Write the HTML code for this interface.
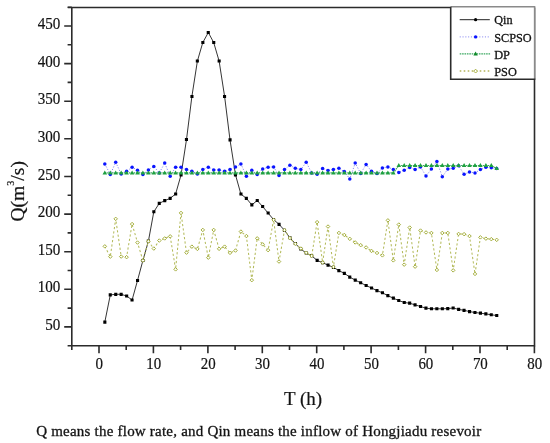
<!DOCTYPE html><html><head><meta charset="utf-8"><style>
html,body{margin:0;padding:0;background:#fff;}
body{width:550px;height:443px;overflow:hidden;position:relative;}
svg{position:absolute;left:0;top:0;}
text{font-family:"Liberation Serif",serif;fill:#141414;stroke:#141414;stroke-width:0.2px;}
</style></head><body>
<svg width="550" height="443" viewBox="0 0 550 443">
<path d="M67.6 345.7H71.8M64.2 326.9H71.8M67.6 308.1H71.8M64.2 289.3H71.8M67.6 270.5H71.8M64.2 251.7H71.8M67.6 232.9H71.8M64.2 214.1H71.8M67.6 195.3H71.8M64.2 176.5H71.8M67.6 157.7H71.8M64.2 138.8H71.8M67.6 120H71.8M64.2 101.2H71.8M67.6 82.4H71.8M64.2 63.6H71.8M67.6 44.8H71.8M64.2 26H71.8M67.6 7.2H71.8M71.8 345.7V349.9M99 345.7V353.3M126.2 345.7V349.9M153.4 345.7V353.3M180.6 345.7V349.9M207.9 345.7V353.3M235.1 345.7V349.9M262.3 345.7V353.3M289.5 345.7V349.9M316.7 345.7V353.3M343.9 345.7V349.9M371.1 345.7V353.3M398.4 345.7V349.9M425.6 345.7V353.3M452.8 345.7V349.9M480 345.7V353.3M507.2 345.7V349.9M534.4 345.7V353.3" stroke="#2b2b2b" stroke-width="1.6" fill="none"/>
<text x="45.3" y="330" font-size="16.3" textLength="15.1" lengthAdjust="spacingAndGlyphs">50</text>
<text x="37.8" y="292.4" font-size="16.3" textLength="22.6" lengthAdjust="spacingAndGlyphs">100</text>
<text x="37.8" y="254.8" font-size="16.3" textLength="22.6" lengthAdjust="spacingAndGlyphs">150</text>
<text x="37.8" y="217.2" font-size="16.3" textLength="22.6" lengthAdjust="spacingAndGlyphs">200</text>
<text x="37.8" y="179.6" font-size="16.3" textLength="22.6" lengthAdjust="spacingAndGlyphs">250</text>
<text x="37.8" y="141.9" font-size="16.3" textLength="22.6" lengthAdjust="spacingAndGlyphs">300</text>
<text x="37.8" y="104.3" font-size="16.3" textLength="22.6" lengthAdjust="spacingAndGlyphs">350</text>
<text x="37.8" y="66.7" font-size="16.3" textLength="22.6" lengthAdjust="spacingAndGlyphs">400</text>
<text x="37.8" y="29.1" font-size="16.3" textLength="22.6" lengthAdjust="spacingAndGlyphs">450</text>
<text x="95.6" y="368.6" font-size="16.1" textLength="7.5" lengthAdjust="spacingAndGlyphs">0</text>
<text x="146.3" y="368.6" font-size="16.1" textLength="14.9" lengthAdjust="spacingAndGlyphs">10</text>
<text x="200.7" y="368.6" font-size="16.1" textLength="14.9" lengthAdjust="spacingAndGlyphs">20</text>
<text x="255.1" y="368.6" font-size="16.1" textLength="14.9" lengthAdjust="spacingAndGlyphs">30</text>
<text x="309.6" y="368.6" font-size="16.1" textLength="14.9" lengthAdjust="spacingAndGlyphs">40</text>
<text x="364" y="368.6" font-size="16.1" textLength="14.9" lengthAdjust="spacingAndGlyphs">50</text>
<text x="418.4" y="368.6" font-size="16.1" textLength="14.9" lengthAdjust="spacingAndGlyphs">60</text>
<text x="472.9" y="368.6" font-size="16.1" textLength="14.9" lengthAdjust="spacingAndGlyphs">70</text>
<text x="527.3" y="368.6" font-size="16.1" textLength="14.9" lengthAdjust="spacingAndGlyphs">80</text>
<polyline points="104.8,322.1 110.3,294.9 115.7,294.3 121.2,294.3 126.6,296 132.1,300 137.5,280.5 142.9,260.5 148.4,241.2 153.8,211.8 159.3,203.3 164.7,200.7 170.2,198.3 175.6,194 181,175.1 186.5,139.5 191.9,96.4 197.4,61 202.8,42.5 208.3,32.5 213.7,42.5 219.1,61 224.6,96.4 230,139.9 235.5,174.9 240.9,194.1 246.4,198.4 251.8,204.9 257.2,200.5 262.7,206.6 268.1,213.1 273.6,219.6 279,224.3 284.5,230.3 289.9,237.8 295.3,243.6 300.8,249 306.2,253.1 311.7,255.8 317.1,260.4 322.6,262.7 328,265.1 333.4,267.3 338.9,270.6 344.3,273.3 349.8,277.1 355.2,280.1 360.7,282.8 366.1,285.5 371.5,288 377,290.6 382.4,292.8 387.9,295.7 393.3,298.2 398.8,300.5 404.2,302.5 409.7,303.2 415.1,304.9 420.5,306.5 426,308.2 431.4,308.8 436.9,308.8 442.3,308.8 447.8,308.6 453.2,308 458.6,309.4 464.1,310.3 469.5,311.6 475,312.5 480.4,313.2 485.9,313.9 491.3,314.8 496.7,315.5" fill="none" stroke="#2a2a2a" stroke-width="0.95"/>
<path d="M103.3 320.6h3.1v3.1h-3.1zM108.7 293.3h3.1v3.1h-3.1zM114.2 292.8h3.1v3.1h-3.1zM119.6 292.8h3.1v3.1h-3.1zM125.1 294.4h3.1v3.1h-3.1zM130.5 298.4h3.1v3.1h-3.1zM136 278.9h3.1v3.1h-3.1zM141.4 258.9h3.1v3.1h-3.1zM146.8 239.6h3.1v3.1h-3.1zM152.3 210.2h3.1v3.1h-3.1zM157.7 201.8h3.1v3.1h-3.1zM163.2 199.1h3.1v3.1h-3.1zM168.6 196.8h3.1v3.1h-3.1zM174.1 192.4h3.1v3.1h-3.1zM179.5 173.5h3.1v3.1h-3.1zM184.9 137.9h3.1v3.1h-3.1zM190.4 94.9h3.1v3.1h-3.1zM195.8 59.5h3.1v3.1h-3.1zM201.3 41h3.1v3.1h-3.1zM206.7 30.9h3.1v3.1h-3.1zM212.2 41h3.1v3.1h-3.1zM217.6 59.5h3.1v3.1h-3.1zM223 94.9h3.1v3.1h-3.1zM228.5 138.3h3.1v3.1h-3.1zM233.9 173.3h3.1v3.1h-3.1zM239.4 192.5h3.1v3.1h-3.1zM244.8 196.8h3.1v3.1h-3.1zM250.3 203.3h3.1v3.1h-3.1zM255.7 198.9h3.1v3.1h-3.1zM261.1 205h3.1v3.1h-3.1zM266.6 211.5h3.1v3.1h-3.1zM272 218h3.1v3.1h-3.1zM277.5 222.8h3.1v3.1h-3.1zM282.9 228.8h3.1v3.1h-3.1zM288.4 236.2h3.1v3.1h-3.1zM293.8 242h3.1v3.1h-3.1zM299.2 247.4h3.1v3.1h-3.1zM304.7 251.5h3.1v3.1h-3.1zM310.1 254.2h3.1v3.1h-3.1zM315.6 258.8h3.1v3.1h-3.1zM321 261.1h3.1v3.1h-3.1zM326.5 263.6h3.1v3.1h-3.1zM331.9 265.8h3.1v3.1h-3.1zM337.3 269.1h3.1v3.1h-3.1zM342.8 271.8h3.1v3.1h-3.1zM348.2 275.6h3.1v3.1h-3.1zM353.7 278.6h3.1v3.1h-3.1zM359.1 281.2h3.1v3.1h-3.1zM364.6 283.9h3.1v3.1h-3.1zM370 286.4h3.1v3.1h-3.1zM375.4 289.1h3.1v3.1h-3.1zM380.9 291.2h3.1v3.1h-3.1zM386.3 294.1h3.1v3.1h-3.1zM391.8 296.6h3.1v3.1h-3.1zM397.2 298.9h3.1v3.1h-3.1zM402.7 300.9h3.1v3.1h-3.1zM408.1 301.6h3.1v3.1h-3.1zM413.5 303.3h3.1v3.1h-3.1zM419 304.9h3.1v3.1h-3.1zM424.4 306.6h3.1v3.1h-3.1zM429.9 307.2h3.1v3.1h-3.1zM435.3 307.2h3.1v3.1h-3.1zM440.8 307.2h3.1v3.1h-3.1zM446.2 307.1h3.1v3.1h-3.1zM451.6 306.4h3.1v3.1h-3.1zM457.1 307.8h3.1v3.1h-3.1zM462.5 308.8h3.1v3.1h-3.1zM468 310.1h3.1v3.1h-3.1zM473.4 310.9h3.1v3.1h-3.1zM478.9 311.6h3.1v3.1h-3.1zM484.3 312.3h3.1v3.1h-3.1zM489.7 313.2h3.1v3.1h-3.1zM495.2 313.9h3.1v3.1h-3.1z" fill="#000"/>
<polyline points="104.8,163.9 110.3,174.5 115.7,162.3 121.2,174 126.6,171.3 132.1,167.2 137.5,170.2 142.9,174.5 148.4,169.9 153.8,166.4 159.3,172.9 164.7,163.1 170.2,176.2 175.6,167.2 181,167.2 186.5,169.6 191.9,171.3 197.4,174 202.8,169.6 208.3,167.2 213.7,169.9 219.1,169.9 224.6,171.3 230,169.6 235.5,167.1 240.9,163.9 246.4,176.2 251.8,170.2 257.2,174.5 262.7,169 268.1,167.2 273.6,166.9 279,175.6 284.5,169.6 289.9,165.3 295.3,168.3 300.8,169.6 306.2,162.2 311.7,173.1 317.1,174.2 322.6,168.5 328,170.5 333.4,169.4 338.9,168.3 344.3,171.6 349.8,178.9 355.2,163.1 360.7,173.5 366.1,164.4 371.5,171.3 377,173.5 382.4,168 387.9,166.9 393.3,169.6 398.8,172.4 404.2,170.2 409.7,167.5 415.1,169.4 420.5,166.9 426,176 431.4,169.1 436.9,161.5 442.3,176.7 447.8,169.1 453.2,168.3 458.6,165.8 464.1,174.3 469.5,172 475,172.9 480.4,169.6 485.9,167.2 491.3,167.7 496.7,168.5" fill="none" stroke="#8a8af0" stroke-width="1" stroke-dasharray="1.2 1.6"/>
<g fill="#0a14ff"><circle cx="104.8" cy="163.9" r="1.75"/><circle cx="110.3" cy="174.5" r="1.75"/><circle cx="115.7" cy="162.3" r="1.75"/><circle cx="121.2" cy="174" r="1.75"/><circle cx="126.6" cy="171.3" r="1.75"/><circle cx="132.1" cy="167.2" r="1.75"/><circle cx="137.5" cy="170.2" r="1.75"/><circle cx="142.9" cy="174.5" r="1.75"/><circle cx="148.4" cy="169.9" r="1.75"/><circle cx="153.8" cy="166.4" r="1.75"/><circle cx="159.3" cy="172.9" r="1.75"/><circle cx="164.7" cy="163.1" r="1.75"/><circle cx="170.2" cy="176.2" r="1.75"/><circle cx="175.6" cy="167.2" r="1.75"/><circle cx="181" cy="167.2" r="1.75"/><circle cx="186.5" cy="169.6" r="1.75"/><circle cx="191.9" cy="171.3" r="1.75"/><circle cx="197.4" cy="174" r="1.75"/><circle cx="202.8" cy="169.6" r="1.75"/><circle cx="208.3" cy="167.2" r="1.75"/><circle cx="213.7" cy="169.9" r="1.75"/><circle cx="219.1" cy="169.9" r="1.75"/><circle cx="224.6" cy="171.3" r="1.75"/><circle cx="230" cy="169.6" r="1.75"/><circle cx="235.5" cy="167.1" r="1.75"/><circle cx="240.9" cy="163.9" r="1.75"/><circle cx="246.4" cy="176.2" r="1.75"/><circle cx="251.8" cy="170.2" r="1.75"/><circle cx="257.2" cy="174.5" r="1.75"/><circle cx="262.7" cy="169" r="1.75"/><circle cx="268.1" cy="167.2" r="1.75"/><circle cx="273.6" cy="166.9" r="1.75"/><circle cx="279" cy="175.6" r="1.75"/><circle cx="284.5" cy="169.6" r="1.75"/><circle cx="289.9" cy="165.3" r="1.75"/><circle cx="295.3" cy="168.3" r="1.75"/><circle cx="300.8" cy="169.6" r="1.75"/><circle cx="306.2" cy="162.2" r="1.75"/><circle cx="311.7" cy="173.1" r="1.75"/><circle cx="317.1" cy="174.2" r="1.75"/><circle cx="322.6" cy="168.5" r="1.75"/><circle cx="328" cy="170.5" r="1.75"/><circle cx="333.4" cy="169.4" r="1.75"/><circle cx="338.9" cy="168.3" r="1.75"/><circle cx="344.3" cy="171.6" r="1.75"/><circle cx="349.8" cy="178.9" r="1.75"/><circle cx="355.2" cy="163.1" r="1.75"/><circle cx="360.7" cy="173.5" r="1.75"/><circle cx="366.1" cy="164.4" r="1.75"/><circle cx="371.5" cy="171.3" r="1.75"/><circle cx="377" cy="173.5" r="1.75"/><circle cx="382.4" cy="168" r="1.75"/><circle cx="387.9" cy="166.9" r="1.75"/><circle cx="393.3" cy="169.6" r="1.75"/><circle cx="398.8" cy="172.4" r="1.75"/><circle cx="404.2" cy="170.2" r="1.75"/><circle cx="409.7" cy="167.5" r="1.75"/><circle cx="415.1" cy="169.4" r="1.75"/><circle cx="420.5" cy="166.9" r="1.75"/><circle cx="426" cy="176" r="1.75"/><circle cx="431.4" cy="169.1" r="1.75"/><circle cx="436.9" cy="161.5" r="1.75"/><circle cx="442.3" cy="176.7" r="1.75"/><circle cx="447.8" cy="169.1" r="1.75"/><circle cx="453.2" cy="168.3" r="1.75"/><circle cx="458.6" cy="165.8" r="1.75"/><circle cx="464.1" cy="174.3" r="1.75"/><circle cx="469.5" cy="172" r="1.75"/><circle cx="475" cy="172.9" r="1.75"/><circle cx="480.4" cy="169.6" r="1.75"/><circle cx="485.9" cy="167.2" r="1.75"/><circle cx="491.3" cy="167.7" r="1.75"/><circle cx="496.7" cy="168.5" r="1.75"/></g>
<polyline points="104.8,172.9 110.3,172.9 115.7,172.9 121.2,172.9 126.6,172.9 132.1,172.9 137.5,172.9 142.9,172.9 148.4,172.9 153.8,172.9 159.3,172.9 164.7,172.9 170.2,172.9 175.6,172.9 181,172.9 186.5,172.9 191.9,172.9 197.4,172.9 202.8,172.9 208.3,172.9 213.7,172.9 219.1,172.9 224.6,172.9 230,172.9 235.5,172.9 240.9,172.9 246.4,172.9 251.8,172.9 257.2,172.9 262.7,172.9 268.1,172.9 273.6,172.9 279,172.9 284.5,172.9 289.9,172.9 295.3,172.9 300.8,172.9 306.2,172.9 311.7,172.9 317.1,172.9 322.6,172.9 328,172.9 333.4,172.9 338.9,172.9 344.3,172.9 349.8,172.9 355.2,172.9 360.7,172.9 366.1,172.9 371.5,172.9 377,172.9 382.4,172.9 387.9,172.9 393.3,172.9 398.8,165.5 404.2,165.5 409.7,165.5 415.1,165.5 420.5,165.5 426,165.5 431.4,165.5 436.9,165.5 442.3,165.5 447.8,165.5 453.2,165.5 458.6,165.5 464.1,165.5 469.5,165.5 475,165.5 480.4,165.5 485.9,165.5 491.3,165.5 496.7,168.5" fill="none" stroke="#3aa860" stroke-width="1.2" stroke-dasharray="1.6 0.8"/>
<path d="M104.8 170.5l2.3 4h-4.6zM110.3 170.5l2.3 4h-4.6zM115.7 170.5l2.3 4h-4.6zM121.2 170.5l2.3 4h-4.6zM126.6 170.5l2.3 4h-4.6zM132.1 170.5l2.3 4h-4.6zM137.5 170.5l2.3 4h-4.6zM142.9 170.5l2.3 4h-4.6zM148.4 170.5l2.3 4h-4.6zM153.8 170.5l2.3 4h-4.6zM159.3 170.5l2.3 4h-4.6zM164.7 170.5l2.3 4h-4.6zM170.2 170.5l2.3 4h-4.6zM175.6 170.5l2.3 4h-4.6zM181 170.5l2.3 4h-4.6zM186.5 170.5l2.3 4h-4.6zM191.9 170.5l2.3 4h-4.6zM197.4 170.5l2.3 4h-4.6zM202.8 170.5l2.3 4h-4.6zM208.3 170.5l2.3 4h-4.6zM213.7 170.5l2.3 4h-4.6zM219.1 170.5l2.3 4h-4.6zM224.6 170.5l2.3 4h-4.6zM230 170.5l2.3 4h-4.6zM235.5 170.5l2.3 4h-4.6zM240.9 170.5l2.3 4h-4.6zM246.4 170.5l2.3 4h-4.6zM251.8 170.5l2.3 4h-4.6zM257.2 170.5l2.3 4h-4.6zM262.7 170.5l2.3 4h-4.6zM268.1 170.5l2.3 4h-4.6zM273.6 170.5l2.3 4h-4.6zM279 170.5l2.3 4h-4.6zM284.5 170.5l2.3 4h-4.6zM289.9 170.5l2.3 4h-4.6zM295.3 170.5l2.3 4h-4.6zM300.8 170.5l2.3 4h-4.6zM306.2 170.5l2.3 4h-4.6zM311.7 170.5l2.3 4h-4.6zM317.1 170.5l2.3 4h-4.6zM322.6 170.5l2.3 4h-4.6zM328 170.5l2.3 4h-4.6zM333.4 170.5l2.3 4h-4.6zM338.9 170.5l2.3 4h-4.6zM344.3 170.5l2.3 4h-4.6zM349.8 170.5l2.3 4h-4.6zM355.2 170.5l2.3 4h-4.6zM360.7 170.5l2.3 4h-4.6zM366.1 170.5l2.3 4h-4.6zM371.5 170.5l2.3 4h-4.6zM377 170.5l2.3 4h-4.6zM382.4 170.5l2.3 4h-4.6zM387.9 170.5l2.3 4h-4.6zM393.3 170.5l2.3 4h-4.6zM398.8 163.1l2.3 4h-4.6zM404.2 163.1l2.3 4h-4.6zM409.7 163.1l2.3 4h-4.6zM415.1 163.1l2.3 4h-4.6zM420.5 163.1l2.3 4h-4.6zM426 163.1l2.3 4h-4.6zM431.4 163.1l2.3 4h-4.6zM436.9 163.1l2.3 4h-4.6zM442.3 163.1l2.3 4h-4.6zM447.8 163.1l2.3 4h-4.6zM453.2 163.1l2.3 4h-4.6zM458.6 163.1l2.3 4h-4.6zM464.1 163.1l2.3 4h-4.6zM469.5 163.1l2.3 4h-4.6zM475 163.1l2.3 4h-4.6zM480.4 163.1l2.3 4h-4.6zM485.9 163.1l2.3 4h-4.6zM491.3 163.1l2.3 4h-4.6zM496.7 166.1l2.3 4h-4.6z" fill="#1ea040"/>
<polyline points="104.8,246.3 110.3,256.7 115.7,218.8 121.2,256.5 126.6,257.1 132.1,224.1 137.5,242.5 142.9,260.5 148.4,241.3 153.8,248.6 159.3,240.5 164.7,238.4 170.2,236.3 175.6,269.3 181,212.9 186.5,252.7 191.9,246.7 197.4,249 202.8,230 208.3,257.6 213.7,230 219.1,248.8 224.6,246.7 230,252.8 235.5,250.5 240.9,231.5 246.4,236.1 251.8,280.1 257.2,238.3 262.7,244.3 268.1,250.2 273.6,219.8 279,261.5 284.5,230.2 289.9,238.1 295.3,243.8 300.8,248.5 306.2,252.8 311.7,256 317.1,222.2 322.6,262.5 328,226.6 333.4,267 338.9,232.9 344.3,235 349.8,238.8 355.2,242.4 360.7,245.2 366.1,247.4 371.5,250.9 377,252.9 382.4,255.3 387.9,220.3 393.3,260.4 398.8,224.6 404.2,264.7 409.7,227.6 415.1,266.7 420.5,230.6 426,232.4 431.4,233 436.9,270 442.3,233 447.8,233 453.2,270.3 458.6,233.9 464.1,234.2 469.5,236.1 475,274 480.4,237.3 485.9,238.7 491.3,239.2 496.7,239.8" fill="none" stroke="#b4bb5c" stroke-width="1.05" stroke-dasharray="2.2 2.2"/>
<path d="M104.8 244.6l1.75 1.75l-1.75 1.75l-1.75 -1.75zM110.3 254.9l1.75 1.75l-1.75 1.75l-1.75 -1.75zM115.7 217.1l1.75 1.75l-1.75 1.75l-1.75 -1.75zM121.2 254.8l1.75 1.75l-1.75 1.75l-1.75 -1.75zM126.6 255.4l1.75 1.75l-1.75 1.75l-1.75 -1.75zM132.1 222.3l1.75 1.75l-1.75 1.75l-1.75 -1.75zM137.5 240.8l1.75 1.75l-1.75 1.75l-1.75 -1.75zM142.9 258.8l1.75 1.75l-1.75 1.75l-1.75 -1.75zM148.4 239.6l1.75 1.75l-1.75 1.75l-1.75 -1.75zM153.8 246.8l1.75 1.75l-1.75 1.75l-1.75 -1.75zM159.3 238.8l1.75 1.75l-1.75 1.75l-1.75 -1.75zM164.7 236.7l1.75 1.75l-1.75 1.75l-1.75 -1.75zM170.2 234.6l1.75 1.75l-1.75 1.75l-1.75 -1.75zM175.6 267.6l1.75 1.75l-1.75 1.75l-1.75 -1.75zM181 211.2l1.75 1.75l-1.75 1.75l-1.75 -1.75zM186.5 250.9l1.75 1.75l-1.75 1.75l-1.75 -1.75zM191.9 244.9l1.75 1.75l-1.75 1.75l-1.75 -1.75zM197.4 247.2l1.75 1.75l-1.75 1.75l-1.75 -1.75zM202.8 228.2l1.75 1.75l-1.75 1.75l-1.75 -1.75zM208.3 255.9l1.75 1.75l-1.75 1.75l-1.75 -1.75zM213.7 228.2l1.75 1.75l-1.75 1.75l-1.75 -1.75zM219.1 247.1l1.75 1.75l-1.75 1.75l-1.75 -1.75zM224.6 244.9l1.75 1.75l-1.75 1.75l-1.75 -1.75zM230 251.1l1.75 1.75l-1.75 1.75l-1.75 -1.75zM235.5 248.8l1.75 1.75l-1.75 1.75l-1.75 -1.75zM240.9 229.8l1.75 1.75l-1.75 1.75l-1.75 -1.75zM246.4 234.3l1.75 1.75l-1.75 1.75l-1.75 -1.75zM251.8 278.4l1.75 1.75l-1.75 1.75l-1.75 -1.75zM257.2 236.6l1.75 1.75l-1.75 1.75l-1.75 -1.75zM262.7 242.6l1.75 1.75l-1.75 1.75l-1.75 -1.75zM268.1 248.4l1.75 1.75l-1.75 1.75l-1.75 -1.75zM273.6 218.1l1.75 1.75l-1.75 1.75l-1.75 -1.75zM279 259.8l1.75 1.75l-1.75 1.75l-1.75 -1.75zM284.5 228.4l1.75 1.75l-1.75 1.75l-1.75 -1.75zM289.9 236.3l1.75 1.75l-1.75 1.75l-1.75 -1.75zM295.3 242.1l1.75 1.75l-1.75 1.75l-1.75 -1.75zM300.8 246.8l1.75 1.75l-1.75 1.75l-1.75 -1.75zM306.2 251.1l1.75 1.75l-1.75 1.75l-1.75 -1.75zM311.7 254.2l1.75 1.75l-1.75 1.75l-1.75 -1.75zM317.1 220.4l1.75 1.75l-1.75 1.75l-1.75 -1.75zM322.6 260.8l1.75 1.75l-1.75 1.75l-1.75 -1.75zM328 224.8l1.75 1.75l-1.75 1.75l-1.75 -1.75zM333.4 265.2l1.75 1.75l-1.75 1.75l-1.75 -1.75zM338.9 231.2l1.75 1.75l-1.75 1.75l-1.75 -1.75zM344.3 233.2l1.75 1.75l-1.75 1.75l-1.75 -1.75zM349.8 237.1l1.75 1.75l-1.75 1.75l-1.75 -1.75zM355.2 240.7l1.75 1.75l-1.75 1.75l-1.75 -1.75zM360.7 243.4l1.75 1.75l-1.75 1.75l-1.75 -1.75zM366.1 245.7l1.75 1.75l-1.75 1.75l-1.75 -1.75zM371.5 249.2l1.75 1.75l-1.75 1.75l-1.75 -1.75zM377 251.2l1.75 1.75l-1.75 1.75l-1.75 -1.75zM382.4 253.6l1.75 1.75l-1.75 1.75l-1.75 -1.75zM387.9 218.6l1.75 1.75l-1.75 1.75l-1.75 -1.75zM393.3 258.6l1.75 1.75l-1.75 1.75l-1.75 -1.75zM398.8 222.8l1.75 1.75l-1.75 1.75l-1.75 -1.75zM404.2 262.9l1.75 1.75l-1.75 1.75l-1.75 -1.75zM409.7 225.8l1.75 1.75l-1.75 1.75l-1.75 -1.75zM415.1 264.9l1.75 1.75l-1.75 1.75l-1.75 -1.75zM420.5 228.8l1.75 1.75l-1.75 1.75l-1.75 -1.75zM426 230.7l1.75 1.75l-1.75 1.75l-1.75 -1.75zM431.4 231.2l1.75 1.75l-1.75 1.75l-1.75 -1.75zM436.9 268.2l1.75 1.75l-1.75 1.75l-1.75 -1.75zM442.3 231.2l1.75 1.75l-1.75 1.75l-1.75 -1.75zM447.8 231.2l1.75 1.75l-1.75 1.75l-1.75 -1.75zM453.2 268.6l1.75 1.75l-1.75 1.75l-1.75 -1.75zM458.6 232.2l1.75 1.75l-1.75 1.75l-1.75 -1.75zM464.1 232.4l1.75 1.75l-1.75 1.75l-1.75 -1.75zM469.5 234.3l1.75 1.75l-1.75 1.75l-1.75 -1.75zM475 272.2l1.75 1.75l-1.75 1.75l-1.75 -1.75zM480.4 235.6l1.75 1.75l-1.75 1.75l-1.75 -1.75zM485.9 236.9l1.75 1.75l-1.75 1.75l-1.75 -1.75zM491.3 237.4l1.75 1.75l-1.75 1.75l-1.75 -1.75zM496.7 238.1l1.75 1.75l-1.75 1.75l-1.75 -1.75z" fill="#fff" stroke="#a4ae3c" stroke-width="1"/>
<path d="M71.8 7V345.7H534.5V7.5" fill="none" stroke="#2b2b2b" stroke-width="1.6"/>
<path d="M67.8 7.5H450.6" fill="none" stroke="#2b2b2b" stroke-width="1.6"/>
<rect x="450.7" y="6.8" width="83.9" height="72.4" fill="#fff"/>
<path d="M450.7 6.8H534.6V79.2" fill="none" stroke="#8a8a8a" stroke-width="1.5"/>
<path d="M450.7 6.8V79.2H535.3" fill="none" stroke="#2b2b2b" stroke-width="1.6"/>
<path d="M459.7 19.7H489.8" stroke="#222" stroke-width="1"/>
<circle cx="475.6" cy="19.7" r="1.6" fill="#000"/>
<path d="M459.7 36.9H489.8" stroke="#8a8af0" stroke-width="1" stroke-dasharray="1.1 1.7"/>
<circle cx="475.6" cy="36.9" r="1.7" fill="#0a14ff"/>
<path d="M459.7 53.9H490.8" stroke="#3aa860" stroke-width="1.2" stroke-dasharray="1.6 0.8"/>
<path d="M475.6 51.6l2.2 3.9h-4.4z" fill="#108a2a"/>
<path d="M459.7 71.1H489.8" stroke="#b4b45a" stroke-width="1.5" stroke-dasharray="1.6 2.4"/>
<path d="M475.6 69.2l1.9 1.9l-1.9 1.9l-1.9 -1.9z" fill="#fff" stroke="#a6ae40" stroke-width="1"/>
<text x="494.2" y="23.5" font-size="12.8" textLength="18.3" lengthAdjust="spacingAndGlyphs" style="stroke-width:0.3px">Qin</text>
<text x="494.2" y="41.5" font-size="12.8" textLength="37.5" lengthAdjust="spacingAndGlyphs" style="stroke-width:0.3px">SCPSO</text>
<text x="494.2" y="58.5" font-size="12.8" textLength="15.8" lengthAdjust="spacingAndGlyphs" style="stroke-width:0.3px">DP</text>
<text x="494.2" y="76.1" font-size="12.8" textLength="22.6" lengthAdjust="spacingAndGlyphs" style="stroke-width:0.3px">PSO</text>
<text x="284" y="405.3" font-size="19">T (h)</text>
<text transform="translate(23.9 221.6) rotate(-90)" font-size="19.6">Q(m<tspan font-size="10" dy="-9.5">3</tspan><tspan dy="9.5">/s)</tspan></text>
<text x="36.2" y="435.7" font-size="15" textLength="445" lengthAdjust="spacing" style="stroke-width:0.3px">Q means the flow rate, and Qin means the inflow of Hongjiadu resevoir</text>
</svg></body></html>
